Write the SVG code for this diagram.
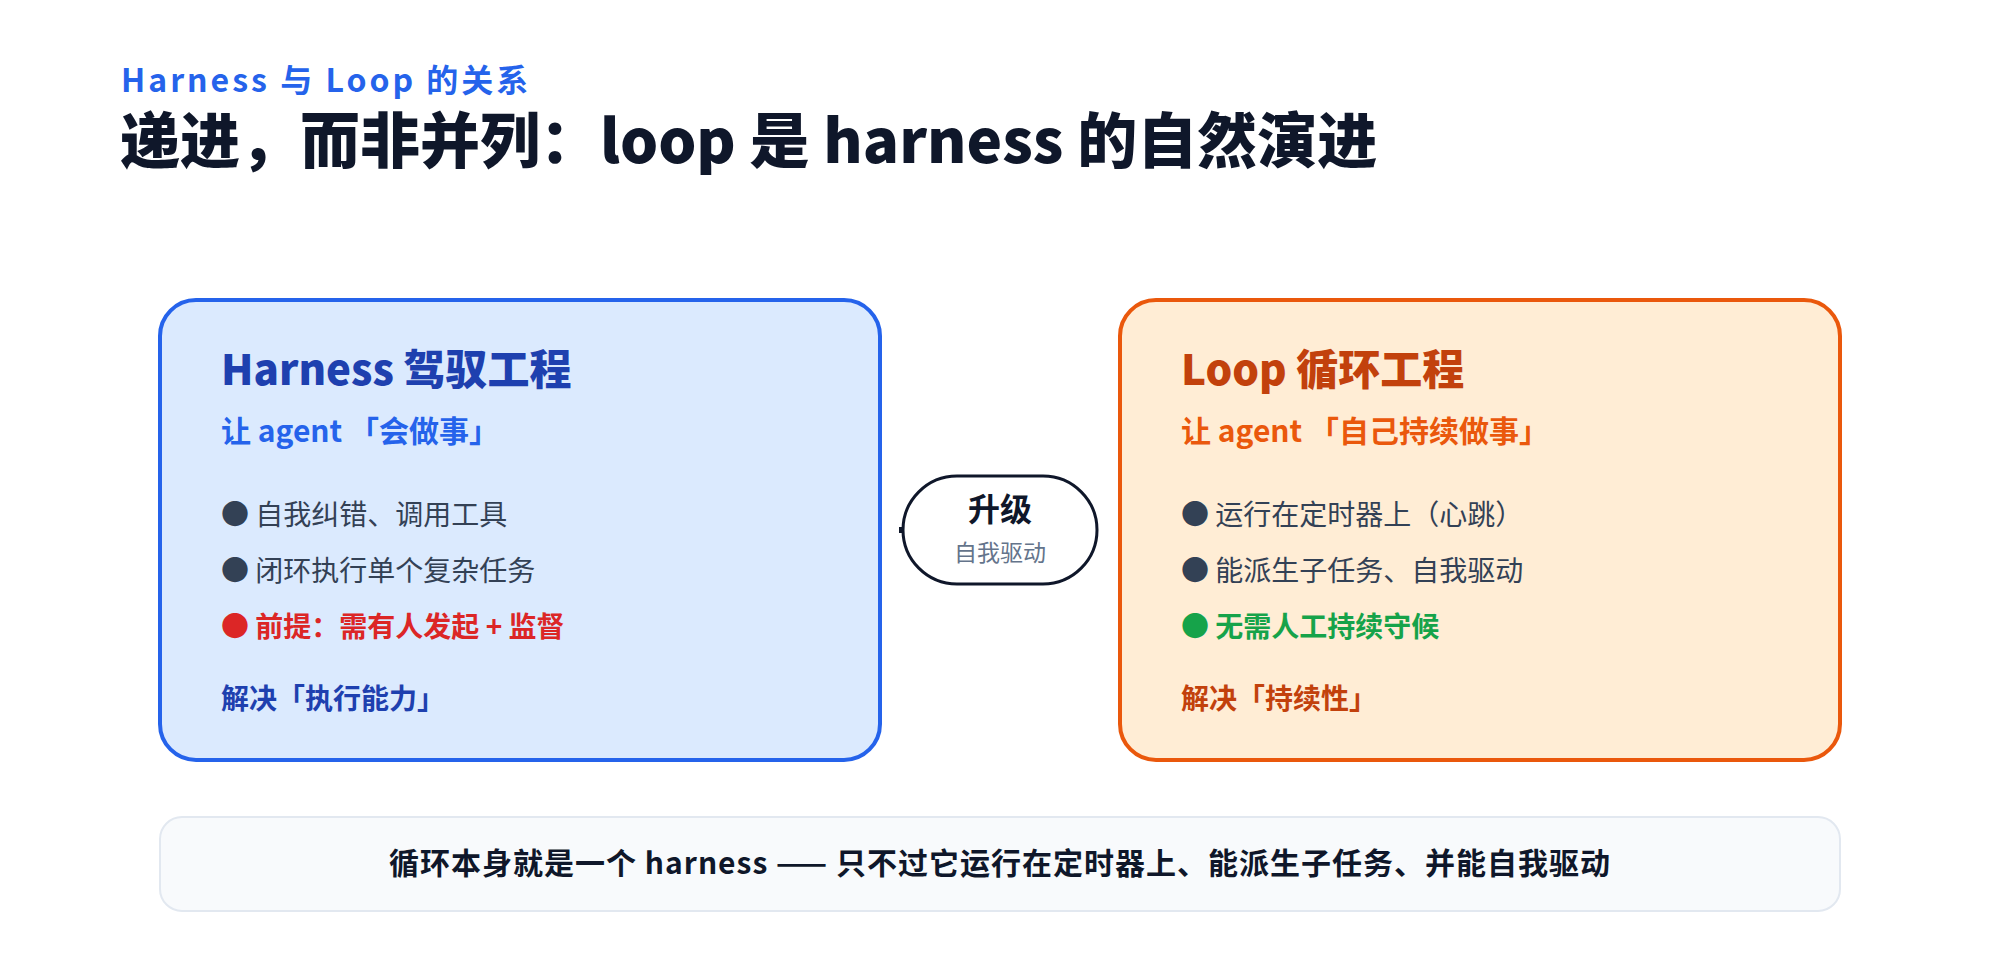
<svg xmlns="http://www.w3.org/2000/svg" width="2000" height="960" viewBox="0 0 2000 960">
  <style>
    text { font-family: "Noto Sans CJK SC", "Noto Sans", "Liberation Sans", sans-serif; }
    .eyebrow { font-size: 32px; font-weight: 700; fill: #2563eb; letter-spacing: 3px; }
    .title { font-size: 60px; font-weight: 900; fill: #0f172a; }
    .card-title { font-size: 42px; font-weight: 800; }
    .card-sub { font-size: 30px; font-weight: 700; }
    .item { font-size: 28px; font-weight: 400; fill: #334155; }
    .item-strong { font-size: 28px; font-weight: 700; }
    .concl { font-size: 28px; font-weight: 700; }
    .pill-main { font-size: 32px; font-weight: 700; fill: #0f172a; }
    .pill-sub { font-size: 23px; font-weight: 400; fill: #64748b; }
    .note { font-size: 30px; font-weight: 700; fill: #0f172a; letter-spacing: 1px; }
  </style>
  <rect x="0" y="0" width="2000" height="960" fill="#ffffff"/>

  <g id="header">
    <text class="eyebrow" x="121" y="92">Harness 与 Loop 的关系</text>
    <text class="title" x="120" y="163">递进，而非并列：loop 是 harness 的自然演进</text>
  </g>

  <g id="harness">
    <rect x="160" y="300" width="720" height="460" rx="36" fill="#dbeafe" stroke="#2563eb" stroke-width="4"/>
    <text class="card-title" x="221" y="385" fill="#1e40af">Harness 驾驭工程</text>
    <text class="card-sub" x="221" y="442" fill="#2563eb">让 agent 「会做事」</text>
    <text class="item" x="221" y="525">● 自我纠错、调用工具</text>
    <text class="item" x="221" y="581">● 闭环执行单个复杂任务</text>
    <text class="item-strong" x="221" y="637" fill="#dc2626">● 前提：需有人发起 + 监督</text>
    <text class="concl" x="221" y="709" fill="#1e40af">解决「执行能力」</text>
  </g>

  <g id="loop">
    <rect x="1120" y="300" width="720" height="460" rx="36" fill="#ffedd5" stroke="#ea580c" stroke-width="4"/>
    <text class="card-title" x="1181" y="385" fill="#c2410c">Loop 循环工程</text>
    <text class="card-sub" x="1181" y="442" fill="#ea580c">让 agent 「自己持续做事」</text>
    <text class="item" x="1181" y="525">● 运行在定时器上（心跳）</text>
    <text class="item" x="1181" y="581">● 能派生子任务、自我驱动</text>
    <text class="item-strong" x="1181" y="637" fill="#16a34a">● 无需人工持续守候</text>
    <text class="concl" x="1181" y="709" fill="#c2410c">解决「持续性」</text>
  </g>

  <g id="connectors">
    <path d="M 899 530 L 904 530" stroke="#0f172a" stroke-width="6" fill="none"/>
  </g>

  <g id="upgrade">
    <rect x="903" y="476" width="194" height="108" rx="54" fill="#ffffff" stroke="#0f172a" stroke-width="3"/>
    <text class="pill-main" x="1000" y="521" text-anchor="middle">升级</text>
    <text class="pill-sub" x="1000" y="561" text-anchor="middle">自我驱动</text>
  </g>

  <g id="summary">
    <rect x="160" y="817" width="1680" height="94" rx="22" fill="#f8fafc" stroke="#e2e8f0" stroke-width="2"/>
    <text class="note" x="1000" y="874" text-anchor="middle">循环本身就是一个 harness —— 只不过它运行在定时器上、能派生子任务、并能自我驱动</text>
  </g>
</svg>
